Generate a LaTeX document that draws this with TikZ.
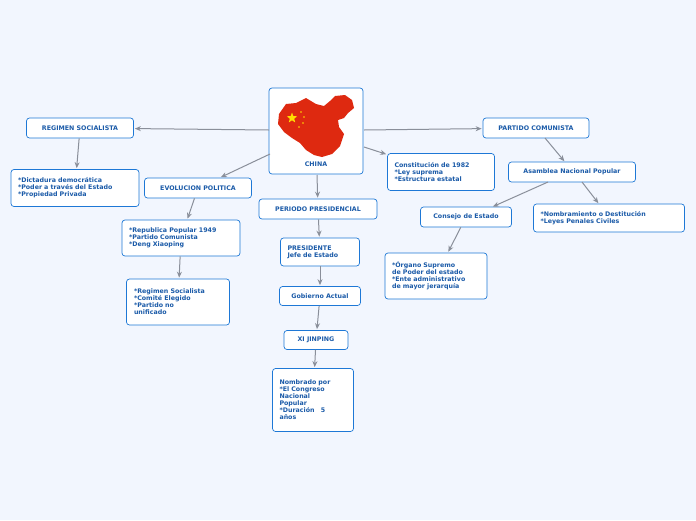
\documentclass[tikz,border=0pt]{standalone}
\usepackage{fontspec}
\setmainfont{DejaVu Sans}
\usetikzlibrary{arrows.meta,shapes.geometric}
\definecolor{bg}{HTML}{F2F6FE}
\definecolor{bd}{HTML}{1E78D6}
\definecolor{tx}{HTML}{1A5AA8}
\definecolor{ln}{HTML}{8A8F9A}
\definecolor{cred}{HTML}{DE2910}
\definecolor{cyel}{HTML}{FFDE00}
\tikzset{
 box/.style={draw=bd,fill=white,rounded corners=3pt,line width=0.7pt,font=\bfseries\fontsize{6.3}{7}\selectfont,text=tx,inner sep=3pt},
 lbox/.style={box,align=left},
 con/.style={draw=ln,line width=1pt,-{Stealth[length=6pt,width=5pt]},shorten >=1pt}
}
\begin{document}
\begin{tikzpicture}[x=1pt,y=1pt]
\fill[bg] (0,0) rectangle (696,-520);
\useasboundingbox (0,0) rectangle (696,-520);
\node[box,minimum width=94,minimum height=86] (china) at (316,-131) {};
\node[font=\bfseries\fontsize{6.3}{7}\selectfont,text=tx] at (316,-164) {CHINA};
\fill[cred] (279,-114) -- (286,-104) -- (296,-103) -- (306,-98) -- (316,-104) -- (324,-106) -- (330,-101) -- (335,-96) -- (345,-95) -- (352,-100) -- (354,-108) -- (348,-113) -- (344,-118) -- (338,-120) -- (339,-127) -- (344,-134) -- (340,-146) -- (332,-154) -- (322,-157) -- (314,-155) -- (306,-150) -- (300,-143) -- (292,-138) -- (284,-132) -- (278,-124) -- cycle;
\node[star,star points=5,star point ratio=2.4,fill=cyel,inner sep=0pt,minimum size=11] at (292,-118) {};
\foreach \p in {(301,-112),(304,-117),(303,-123),(299,-127)} \fill[cyel] \p circle (0.9);
\node[box,minimum width=107,minimum height=20] (reg) at (80,-128) {REGIMEN SOCIALISTA};
\node[lbox,minimum width=128,minimum height=37,text width=114] (dic) at (75,-188) {{*}Dictadura democrática\\{*}Poder a través del Estado\\{*}Propiedad Privada};
\node[box,minimum width=107,minimum height=20] (evo) at (198,-188) {EVOLUCION POLITICA};
\node[lbox,minimum width=118,minimum height=36,text width=104] (rep) at (181,-238) {{*}Republica Popular 1949\\{*}Partido Comunista\\{*}Deng Xiaoping};
\node[lbox,minimum width=103,minimum height=46,text width=88] (reg2) at (178,-302) {{*}Regimen Socialista\\{*}Comité Elegido\\{*}Partido no\\unificado};
\node[box,minimum width=118,minimum height=20] (per) at (318,-209) {PERIODO PRESIDENCIAL};
\node[lbox,minimum width=79,minimum height=28,text width=65] (pre) at (320,-252) {PRESIDENTE\\Jefe de Estado};
\node[box,minimum width=81,minimum height=19] (gob) at (320,-296) {Gobierno Actual};
\node[box,minimum width=64,minimum height=19] (xi) at (316,-340) {XI JINPING};
\node[lbox,minimum width=81,minimum height=63,text width=67] (nom) at (313,-400) {Nombrado por\\{*}El Congreso\\Nacional\\Popular\\{*}Duración\ \ \ 5\\años};
\node[lbox,minimum width=107,minimum height=37,text width=93] (con) at (441,-172) {Constitución de 1982\\{*}Ley suprema\\{*}Estructura estatal};
\node[box,minimum width=106,minimum height=20] (par) at (536,-128) {PARTIDO COMUNISTA};
\node[box,minimum width=127,minimum height=20] (asa) at (572,-172) {Asamblea Nacional Popular};
\node[box,minimum width=91,minimum height=20] (cons) at (466,-217) {Consejo de Estado};
\node[lbox,minimum width=102,minimum height=46,text width=88] (org) at (436,-276) {{*}Órgano Supremo\\de Poder del estado\\{*}Ente administrativo\\de mayor jerarquía};
\node[lbox,minimum width=151,minimum height=28,text width=137] (nmb) at (609,-218) {{*}Nombramiento o Destitución\\{*}Leyes Penales Civiles};
\draw[con] (269,-130) -- (reg);
\draw[con] (270,-154) -- (evo);
\draw[con] (317,-175) -- (per);
\draw[con] (364,-147) -- (con);
\draw[con] (364,-130) -- (par);
\draw[con] (reg) -- (dic);
\draw[con] (evo) -- (rep);
\draw[con] (rep) -- (reg2);
\draw[con] (per) -- (pre);
\draw[con] (pre) -- (gob);
\draw[con] (gob) -- (xi);
\draw[con] (xi) -- (nom);
\draw[con] (545,-138) -- (565,-162);
\draw[con] (548,-182) -- (492,-207);
\draw[con] (582,-182) -- (599,-204);
\draw[con] (cons) -- (org);
\end{tikzpicture}
\end{document}
